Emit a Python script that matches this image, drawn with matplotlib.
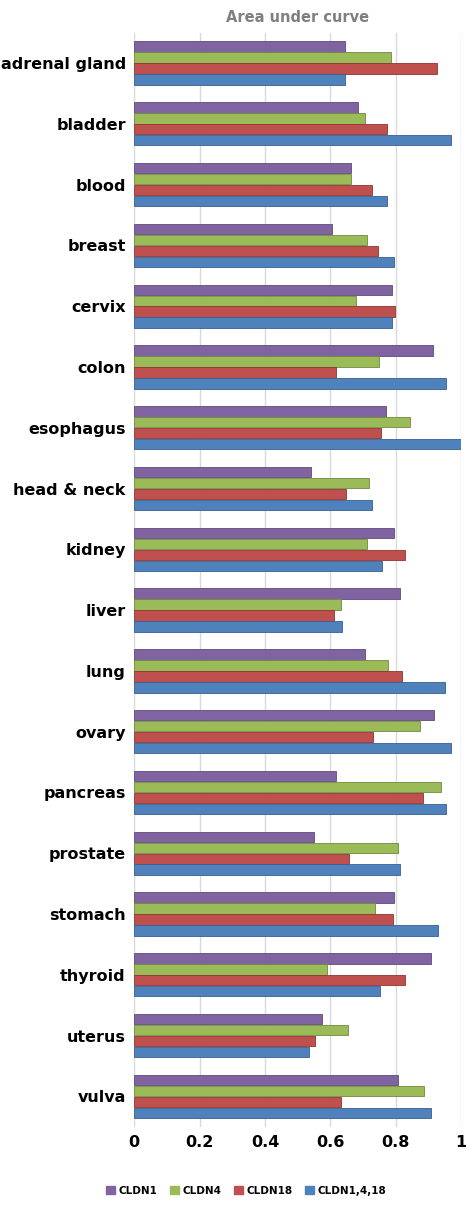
import numpy as np
import matplotlib.pyplot as plt
from matplotlib.patches import Patch

tissues = ['adrenal gland', 'bladder', 'blood', 'breast', 'cervix', 'colon', 'esophagus',
           'head & neck', 'kidney', 'liver', 'lung', 'ovary', 'pancreas', 'prostate',
           'stomach', 'thyroid', 'uterus', 'vulva']
cldn1 = [0.646, 0.683, 0.663, 0.605, 0.788, 0.913, 0.769, 0.542, 0.793, 0.813, 0.706, 0.916,
         0.616, 0.550, 0.796, 0.909, 0.574, 0.808]
cldn4 = [0.786, 0.706, 0.663, 0.712, 0.678, 0.750, 0.844, 0.718, 0.711, 0.632, 0.777, 0.875,
         0.938, 0.808, 0.736, 0.591, 0.654, 0.886]
cldn18 = [0.926, 0.772, 0.728, 0.745, 0.798, 0.618, 0.755, 0.647, 0.827, 0.611, 0.818, 0.731,
          0.882, 0.657, 0.790, 0.829, 0.554, 0.631]
cldn_all = [0.646, 0.970, 0.772, 0.793, 0.788, 0.954, 1.0, 0.728, 0.757, 0.636, 0.950, 0.970,
            0.955, 0.813, 0.929, 0.752, 0.536, 0.909]

series = [('CLDN1', cldn1, '#8064A2', '#5E4A7A'),
          ('CLDN4', cldn4, '#9BBB59', '#6F8A3C'),
          ('CLDN18', cldn18, '#C0504D', '#8C3532'),
          ('CLDN1,4,18', cldn_all, '#4F81BD', '#365F8F')]

fig = plt.figure(figsize=(4.74, 12.09), dpi=100)
ax = fig.add_axes([0.283, 0.068, 0.69, 0.905])

y = np.arange(len(tissues))
h = 0.18
for i, (name, vals, col, edge) in enumerate(series):
    ax.barh(y - 0.27 + i * h, vals, height=h * 0.95, color=col, edgecolor=edge,
            linewidth=0.6, label=name, zorder=3)

ax.set_xlim(0, 1)
ax.set_ylim(len(tissues) - 0.5, -0.5)
ax.set_yticks(y)
ax.set_yticklabels(tissues, fontsize=11.5, fontweight='bold')
ax.set_xticks([0, 0.2, 0.4, 0.6, 0.8, 1])
ax.set_xticklabels(['0', '0.2', '0.4', '0.6', '0.8', '1'], fontsize=11.5, fontweight='bold')
ax.tick_params(length=0, pad=6)
ax.grid(axis='x', color='#D9D9D9', linewidth=1, zorder=0)
for s in ax.spines.values():
    s.set_visible(False)
ax.set_title('Area under curve', fontsize=10.5, fontweight='bold', color='#7F7F7F', pad=8)

handles = [Patch(color=c, label=n) for n, _, c, _ in series]
fig.legend(handles=handles, loc='lower center', ncol=4, frameon=False,
           bbox_to_anchor=(0.52, 0.003), fontsize=7.5, handlelength=0.8, handleheight=0.8,
           columnspacing=1.2, handletextpad=0.4, prop={'weight': 'bold', 'size': 7.5})

fig.savefig('out.png', dpi=100)
